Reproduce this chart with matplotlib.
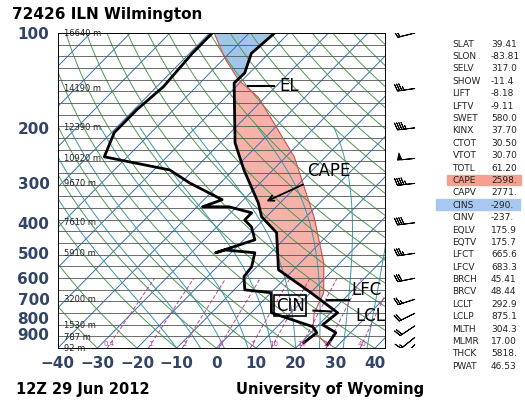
import numpy as np
import matplotlib.pyplot as plt

# sounding (hPa, degC)
p_env = [975, 893, 843, 772, 667, 564, 430, 383, 346, 272, 223, 144, 134, 116, 100]
t_env = [27.2, 26.3, 21.0, 21.8, 10.1, -3.8, -13.5, -21.2, -25.5, -37.3, -46.3, -61.4, -61.2, -64.4, -63.6]
p_dew = [961, 893, 855, 772, 667, 653, 593, 552, 498, 488, 498, 453, 412, 392, 372, 356, 356, 338,
         299, 272, 247, 207, 175, 148, 116, 100]
t_dew = [20.7, 21.5, 19.0, 5.1, 0.1, -7.3, -10.8, -11.3, -14.0, -22.2, -23.9, -17.2, -21.3, -24.7,
         -24.7, -31.9, -38.6, -35.4, -47.8, -56.0, -75.8, -79.3, -79.3, -78.3, -79.3, -79.3]
p_parcel = [975, 875, 775, 667, 536, 383, 247, 160, 141, 120, 100]
t_parcel = [27.0, 19.8, 16.0, 13.3, 5.9, -8.0, -27.9, -51.7, -61.0, -70.0, -78.8]

# mandatory levels and heights
p_lab = [100, 150, 200, 250, 300, 400, 500, 700, 850, 925, 1000]
z_lab = ['16640 m', '14190 m', '12390 m', '10920 m', '9670 m', '7610 m', '5910 m', '3200 m',
         '1530 m', '787 m', '92 m']
mix_w = [0.4, 1, 2, 4, 7, 10, 16, 24, 40]

# winds (knots)
p_wind = [975, 925, 850, 775, 700, 600, 500, 400, 300, 250, 200, 150, 100]
u_wind = [5, 10, 15, 20, 25, 30, 35, 40, 45, 50, 45, 35, 20]
v_wind = [5, 8, 10, 10, 8, 6, 5, 5, 5, 5, 5, 5, 5]

stat_names = ['SLAT', 'SLON', 'SELV', 'SHOW', 'LIFT', 'LFTV', 'SWET', 'KINX', 'CTOT', 'VTOT', 'TOTL',
              'CAPE', 'CAPV', 'CINS', 'CINV', 'EQLV', 'EQTV', 'LFCT', 'LFCV', 'BRCH', 'BRCV', 'LCLT',
              'LCLP', 'MLTH', 'MLMR', 'THCK', 'PWAT']
stat_vals = ['39.41', '-83.81', '317.0', '-11.4', '-8.18', '-9.11', '580.0', '37.70', '30.50', '30.70',
             '61.20', '2598.', '2771.', '-290.', '-237.', '175.9', '175.7', '665.6', '683.3', '45.41',
             '48.44', '292.9', '875.1', '304.3', '17.00', '5818.', '46.53']

K = 34.0


def skew(t, p):
    return np.asarray(t) + K * np.log(1000.0 / np.asarray(p))


fig = plt.figure(figsize=(5.25, 4.13), dpi=100)
ax = fig.add_axes([0.11, 0.157, 0.623, 0.763])
ax.set_yscale('log')
ax.set_ylim(1000, 100)
ax.set_xlim(-38.8, 42.5)

pp = np.linspace(1000, 100, 200)
# isotherms
for t in range(-160, 60, 10):
    ax.plot(skew(t, pp), pp, color='#3a70b8', lw=0.7)
# dry adiabats
for th in range(-30, 200, 10):
    tk = (th + 273.15) * (pp / 1000.0) ** 0.286 - 273.15
    ax.plot(skew(tk, pp), pp, color='#4f9a55', lw=0.7)
# moist adiabats


def es(t):
    return 6.112 * np.exp(17.67 * t / (t + 243.5))


for t0 in range(-10, 44, 6):
    ps = np.linspace(1000, 200, 300)
    ts = [t0]
    for i in range(1, len(ps)):
        T = ts[-1] + 273.15
        rs = 0.622 * es(ts[-1]) / (ps[i - 1] - es(ts[-1]))
        dtdp = (287 * T + 2.5e6 * rs) / (ps[i - 1] * (1004 + 2.5e6 ** 2 * rs * 0.622 / (287 * T * T)))
        ts.append(ts[-1] + dtdp * (ps[i] - ps[i - 1]))
    ax.plot(skew(ts, ps), ps, color='#3a9aa8', lw=0.7)
# mixing ratio
pm = np.linspace(1000, 600, 50)
for w in mix_w:
    e = w * pm / (622.0 + w)
    td = 243.5 * np.log(e / 6.112) / (17.67 - np.log(e / 6.112))
    ax.plot(skew(td, pm), pm, color='#c040a0', lw=0.7, ls=(0, (4, 2)))
    ax.text(skew(td[0], 985), 985, '%g' % w, color='#c040a0', fontsize=5, ha='center')
# isobars
for p in np.geomspace(100, 1000, 28):
    ax.axhline(p, color='#555', lw=0.6)

# shading
pf = np.linspace(700, 100, 300)
te = np.interp(np.log(pf), np.log(p_env[::-1]), t_env[::-1])
tp = np.interp(np.log(pf), np.log(p_parcel[::-1]), t_parcel[::-1])
ax.fill_betweenx(pf, skew(te, pf), skew(tp, pf), where=tp >= te, color='#f08070', alpha=0.6, lw=0)
ax.fill_betweenx(pf, skew(te, pf), skew(tp, pf), where=(tp < te) & (pf < 150), color='#70a8e0',
                 alpha=0.65, lw=0)
ax.plot(skew(t_parcel, p_parcel), p_parcel, color='#d05050', lw=0.8)

ax.plot(skew(t_env, p_env), p_env, color='k', lw=2)
ax.plot(skew(t_dew, p_dew), p_dew, color='k', lw=2)

for p, z in zip(p_lab, z_lab):
    ax.text(-38.3, p, z, fontsize=6, va='center', color='#222')

ax.set_yticks([100, 200, 300, 400, 500, 600, 700, 800, 900])
ax.set_yticklabels(['100', '200', '300', '400', '500', '600', '700', '800', '900'])
ax.yaxis.set_minor_locator(plt.NullLocator())
ax.set_xticks(range(-40, 41, 10))
ax.tick_params(length=0, labelsize=11, colors='#334466', pad=6)
for lab in ax.get_xticklabels() + ax.get_yticklabels():
    lab.set_fontweight('bold')
for s in ax.spines.values():
    s.set_linewidth(0.7)

# hand annotations
hand = dict(fontsize=12, color='k', family='DejaVu Sans')
ax.text(16, 147, 'EL', **hand, va='center')
ax.plot([8, 14.5], [147, 147], color='k', lw=1.5)
ax.text(23, 285, 'CAPE', **hand)
ax.annotate('', xy=(12, 345), xytext=(22.5, 300), arrowprops=dict(arrowstyle='->', lw=1.3))
ax.text(34, 680, 'LFC', **hand)
ax.plot([28, 33.5], [705, 705], color='k', lw=1.5)
ax.text(35, 820, 'LCL', **hand)
ax.text(15, 760, 'CIN', **hand, bbox=dict(fc='none', ec='k', lw=1.2, pad=1))
ax.plot([24.5, 29], [760, 765], color='k', lw=1.5)

# winds
axw = fig.add_axes([0.745, 0.157, 0.09, 0.763], sharey=ax)
axw.barbs(np.zeros(len(p_wind)), p_wind, u_wind, v_wind, length=5, lw=0.7)
axw.set_xlim(-1, 1)
axw.axis('off')

fig.text(0.023, 0.955, '72426 ILN Wilmington', fontsize=11, fontweight='bold')
fig.text(0.03, 0.045, '12Z 29 Jun 2012', fontsize=10.5, fontweight='bold')
fig.text(0.45, 0.045, 'University of Wyoming', fontsize=10.5, fontweight='bold')

for i, (n, v) in enumerate(zip(stat_names, stat_vals)):
    y = 0.893 - i * 0.0300
    if n == 'CAPE':
        fig.patches.append(plt.Rectangle((0.852, y - 0.012), 0.14, 0.026, color='#f5a090',
                                         transform=fig.transFigure, figure=fig))
    if n == 'CINS':
        fig.patches.append(plt.Rectangle((0.83, y - 0.012), 0.16, 0.026, color='#a8c8f0',
                                         transform=fig.transFigure, figure=fig))
    fig.text(0.862, y, n, fontsize=6.5, va='center', color='#222')
    fig.text(0.935, y, v, fontsize=6.5, va='center', color='#222')

fig.savefig('out.png', dpi=100)
